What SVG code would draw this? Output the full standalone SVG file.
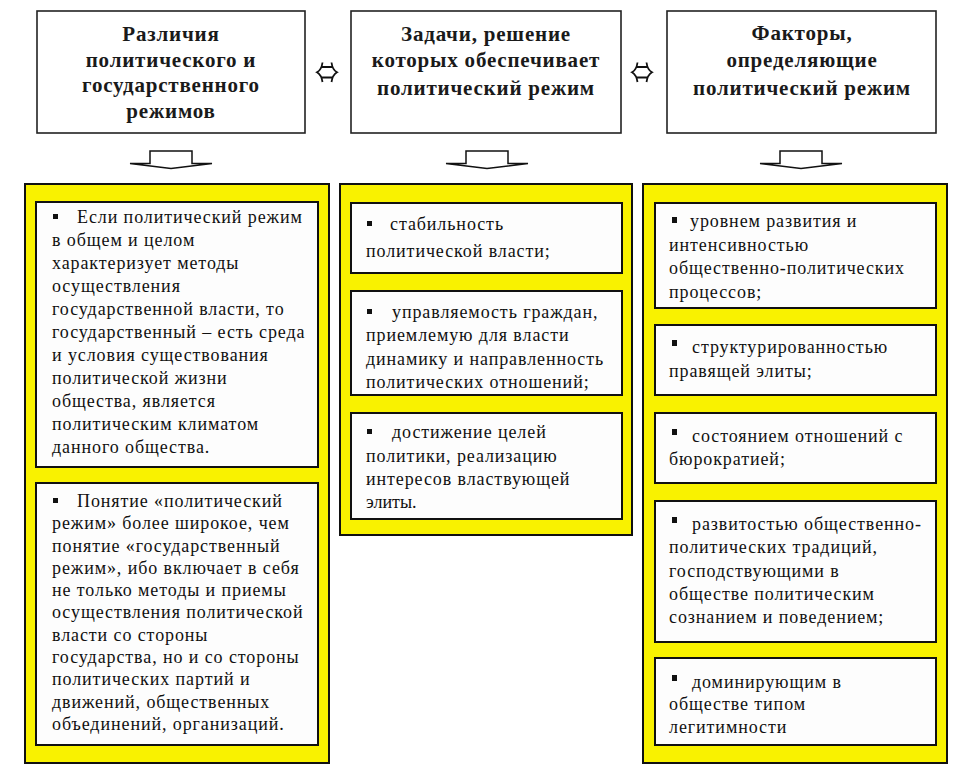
<svg xmlns="http://www.w3.org/2000/svg" width="968" height="782" viewBox="0 0 968 782">
<defs>
  <path id="downArrow" d="M-21,0 H21 V12.5 H41 L0,17.5 L-41,12.5 H-21 Z" fill="#fff" stroke="#111" stroke-width="1.5"/>
  <path id="dblArrow" d="M-6,-5.3 H6 M-6,5.2 H6 M-4.5,-9.8 Q-5.5,-2.3 -10,0 Q-5.5,2.7 -4.5,9.7 M4.5,-9.8 Q5.5,-2.3 10,0 Q5.5,2.7 4.5,9.7" fill="none" stroke="#111" stroke-width="1.8"/>
</defs>
<rect x="0" y="0" width="968" height="782" fill="#fff"/>

<g id="connectors">
  <use href="#downArrow" x="171" y="151"/>
  <use href="#downArrow" x="487" y="151"/>
  <use href="#downArrow" x="801" y="151"/>
  <use href="#dblArrow" x="327" y="72.3"/>
  <use href="#dblArrow" x="642" y="72.3"/>
</g>

<g id="header-differences">
  <rect x="37" y="11" width="268" height="122" fill="#fff" stroke="#222" stroke-width="1.6"/>
  <text font-family="Liberation Serif" font-weight="bold" font-size="21" fill="#1a1a1a" text-anchor="middle" letter-spacing="0.8" x="171" y="41">Различия</text>
  <text font-family="Liberation Serif" font-weight="bold" font-size="21" fill="#1a1a1a" text-anchor="middle" letter-spacing="0.8" x="171" y="67">политического и</text>
  <text font-family="Liberation Serif" font-weight="bold" font-size="21" fill="#1a1a1a" text-anchor="middle" letter-spacing="0.8" x="171" y="92">государственного</text>
  <text font-family="Liberation Serif" font-weight="bold" font-size="21" fill="#1a1a1a" text-anchor="middle" letter-spacing="0.8" x="171" y="118">режимов</text>
</g>

<g id="header-tasks">
  <rect x="351" y="11" width="270" height="122" fill="#fff" stroke="#222" stroke-width="1.6"/>
  <text font-family="Liberation Serif" font-weight="bold" font-size="21" fill="#1a1a1a" text-anchor="middle" letter-spacing="0.8" x="486" y="41">Задачи, решение</text>
  <text font-family="Liberation Serif" font-weight="bold" font-size="21" fill="#1a1a1a" text-anchor="middle" letter-spacing="0.8" x="486" y="67">которых обеспечивает</text>
  <text font-family="Liberation Serif" font-weight="bold" font-size="21" fill="#1a1a1a" text-anchor="middle" letter-spacing="0.8" x="486" y="95">политический режим</text>
</g>

<g id="header-factors">
  <rect x="667" y="11" width="269" height="122" fill="#fff" stroke="#222" stroke-width="1.6"/>
  <text font-family="Liberation Serif" font-weight="bold" font-size="21" fill="#1a1a1a" text-anchor="middle" letter-spacing="0.8" x="802" y="40">Факторы,</text>
  <text font-family="Liberation Serif" font-weight="bold" font-size="21" fill="#1a1a1a" text-anchor="middle" letter-spacing="0.8" x="802" y="67">определяющие</text>
  <text font-family="Liberation Serif" font-weight="bold" font-size="21" fill="#1a1a1a" text-anchor="middle" letter-spacing="0.8" x="802" y="95">политический режим</text>
</g>

<g id="panel-left">
  <rect x="25" y="184" width="304" height="579" fill="#f9f200" stroke="#111" stroke-width="2"/>
</g>
<g id="panel-middle">
  <rect x="340" y="184" width="292" height="351" fill="#f9f200" stroke="#111" stroke-width="2"/>
</g>
<g id="panel-right">
  <rect x="643" y="184" width="304" height="579" fill="#f9f200" stroke="#111" stroke-width="2"/>
</g>

<g id="left-item-1">
  <rect x="36" y="202" width="282" height="265" fill="#fdfdfd" stroke="#111" stroke-width="2"/>
  <rect x="53" y="214" width="5" height="5" fill="#111"/>
  <text font-family="Liberation Serif" font-size="18" fill="#111" letter-spacing="0.9" x="77" y="223">Если политический режим</text>
  <text font-family="Liberation Serif" font-size="18" fill="#111" letter-spacing="0.9" x="52" y="246">в общем и целом</text>
  <text font-family="Liberation Serif" font-size="18" fill="#111" letter-spacing="0.9" x="52" y="269">характеризует методы</text>
  <text font-family="Liberation Serif" font-size="18" fill="#111" letter-spacing="0.9" x="52" y="292">осуществления</text>
  <text font-family="Liberation Serif" font-size="18" fill="#111" letter-spacing="0.9" x="52" y="315">государственной власти, то</text>
  <text font-family="Liberation Serif" font-size="18" fill="#111" letter-spacing="0.9" x="52" y="338">государственный – есть среда</text>
  <text font-family="Liberation Serif" font-size="18" fill="#111" letter-spacing="0.9" x="52" y="361">и условия существования</text>
  <text font-family="Liberation Serif" font-size="18" fill="#111" letter-spacing="0.9" x="52" y="384">политической жизни</text>
  <text font-family="Liberation Serif" font-size="18" fill="#111" letter-spacing="0.9" x="52" y="407">общества, является</text>
  <text font-family="Liberation Serif" font-size="18" fill="#111" letter-spacing="0.9" x="52" y="430">политическим климатом</text>
  <text font-family="Liberation Serif" font-size="18" fill="#111" letter-spacing="0.9" x="52" y="453">данного общества.</text>
</g>

<g id="left-item-2">
  <rect x="36" y="483" width="282" height="262" fill="#fdfdfd" stroke="#111" stroke-width="2"/>
  <rect x="53" y="498" width="5" height="5" fill="#111"/>
  <text font-family="Liberation Serif" font-size="18" fill="#111" letter-spacing="0.9" x="77" y="507">Понятие «политический</text>
  <text font-family="Liberation Serif" font-size="18" fill="#111" letter-spacing="0.9" x="52" y="529">режим» более широкое, чем</text>
  <text font-family="Liberation Serif" font-size="18" fill="#111" letter-spacing="0.9" x="52" y="552">понятие «государственный</text>
  <text font-family="Liberation Serif" font-size="18" fill="#111" letter-spacing="0.9" x="52" y="574">режим», ибо включает в себя</text>
  <text font-family="Liberation Serif" font-size="18" fill="#111" letter-spacing="0.9" x="52" y="596">не только методы и приемы</text>
  <text font-family="Liberation Serif" font-size="18" fill="#111" letter-spacing="0.9" x="52" y="618">осуществления политической</text>
  <text font-family="Liberation Serif" font-size="18" fill="#111" letter-spacing="0.9" x="52" y="641">власти со стороны</text>
  <text font-family="Liberation Serif" font-size="18" fill="#111" letter-spacing="0.9" x="52" y="663">государства, но и со стороны</text>
  <text font-family="Liberation Serif" font-size="18" fill="#111" letter-spacing="0.9" x="52" y="685">политических партий и</text>
  <text font-family="Liberation Serif" font-size="18" fill="#111" letter-spacing="0.9" x="52" y="708">движений, общественных</text>
  <text font-family="Liberation Serif" font-size="18" fill="#111" letter-spacing="0.9" x="52" y="730">объединений, организаций.</text>
</g>

<g id="middle-item-1">
  <rect x="351" y="203" width="271" height="70" fill="#fdfdfd" stroke="#111" stroke-width="2"/>
  <rect x="367" y="221" width="5" height="5" fill="#111"/>
  <text font-family="Liberation Serif" font-size="18" fill="#111" letter-spacing="0.9" x="390" y="230">стабильность</text>
  <text font-family="Liberation Serif" font-size="18" fill="#111" letter-spacing="0.9" x="366" y="257">политической власти;</text>
</g>

<g id="middle-item-2">
  <rect x="351" y="291" width="271" height="104" fill="#fdfdfd" stroke="#111" stroke-width="2"/>
  <rect x="367" y="309" width="5" height="5" fill="#111"/>
  <text font-family="Liberation Serif" font-size="18" fill="#111" letter-spacing="0.9" x="392" y="318">управляемость граждан,</text>
  <text font-family="Liberation Serif" font-size="18" fill="#111" letter-spacing="0.9" x="366" y="341">приемлемую для власти</text>
  <text font-family="Liberation Serif" font-size="18" fill="#111" letter-spacing="0.9" x="366" y="365">динамику и направленность</text>
  <text font-family="Liberation Serif" font-size="18" fill="#111" letter-spacing="0.9" x="366" y="388">политических отношений;</text>
</g>

<g id="middle-item-3">
  <rect x="351" y="413" width="271" height="106" fill="#fdfdfd" stroke="#111" stroke-width="2"/>
  <rect x="367" y="429" width="5" height="5" fill="#111"/>
  <text font-family="Liberation Serif" font-size="18" fill="#111" letter-spacing="0.9" x="392" y="438">достижение целей</text>
  <text font-family="Liberation Serif" font-size="18" fill="#111" letter-spacing="0.9" x="366" y="462">политики, реализацию</text>
  <text font-family="Liberation Serif" font-size="18" fill="#111" letter-spacing="0.9" x="366" y="485">интересов властвующей</text>
  <text font-family="Liberation Serif" font-size="18" fill="#111" x="366" y="508">элиты.</text>
</g>

<g id="right-item-1">
  <rect x="655" y="203" width="281" height="105" fill="#fdfdfd" stroke="#111" stroke-width="2"/>
  <rect x="672" y="217" width="5" height="6" fill="#111"/>
  <text font-family="Liberation Serif" font-size="18" fill="#111" letter-spacing="0.9" x="690" y="227">уровнем развития и</text>
  <text font-family="Liberation Serif" font-size="18" fill="#111" letter-spacing="0.9" x="669" y="251">интенсивностью</text>
  <text font-family="Liberation Serif" font-size="18" fill="#111" letter-spacing="0.9" x="669" y="274">общественно-политических</text>
  <text font-family="Liberation Serif" font-size="18" fill="#111" letter-spacing="0.9" x="669" y="298">процессов;</text>
</g>

<g id="right-item-2">
  <rect x="655" y="325" width="281" height="70" fill="#fdfdfd" stroke="#111" stroke-width="2"/>
  <rect x="672" y="340" width="5" height="6" fill="#111"/>
  <text font-family="Liberation Serif" font-size="18" fill="#111" letter-spacing="0.9" x="692" y="353">структурированностью</text>
  <text font-family="Liberation Serif" font-size="18" fill="#111" letter-spacing="0.9" x="669" y="377">правящей элиты;</text>
</g>

<g id="right-item-3">
  <rect x="655" y="413" width="281" height="70" fill="#fdfdfd" stroke="#111" stroke-width="2"/>
  <rect x="672" y="429" width="5" height="6" fill="#111"/>
  <text font-family="Liberation Serif" font-size="18" fill="#111" letter-spacing="0.9" x="692" y="442">состоянием отношений с</text>
  <text font-family="Liberation Serif" font-size="18" fill="#111" letter-spacing="0.9" x="669" y="465">бюрократией;</text>
</g>

<g id="right-item-4">
  <rect x="655" y="501" width="281" height="141" fill="#fdfdfd" stroke="#111" stroke-width="2"/>
  <rect x="672" y="517" width="5" height="6" fill="#111"/>
  <text font-family="Liberation Serif" font-size="18" fill="#111" letter-spacing="0.9" x="692" y="530">развитостью общественно-</text>
  <text font-family="Liberation Serif" font-size="18" fill="#111" letter-spacing="0.9" x="669" y="553">политических традиций,</text>
  <text font-family="Liberation Serif" font-size="18" fill="#111" letter-spacing="0.9" x="669" y="577">господствующими в</text>
  <text font-family="Liberation Serif" font-size="18" fill="#111" letter-spacing="0.9" x="669" y="600">обществе политическим</text>
  <text font-family="Liberation Serif" font-size="18" fill="#111" letter-spacing="0.9" x="669" y="623">сознанием и поведением;</text>
</g>

<g id="right-item-5">
  <rect x="655" y="658" width="281" height="87" fill="#fdfdfd" stroke="#111" stroke-width="2"/>
  <rect x="672" y="675" width="5" height="6" fill="#111"/>
  <text font-family="Liberation Serif" font-size="18" fill="#111" letter-spacing="0.9" x="692" y="688">доминирующим в</text>
  <text font-family="Liberation Serif" font-size="18" fill="#111" letter-spacing="0.9" x="669" y="710">обществе типом</text>
  <text font-family="Liberation Serif" font-size="18" fill="#111" letter-spacing="0.9" x="669" y="733">легитимности</text>
</g>
</svg>
